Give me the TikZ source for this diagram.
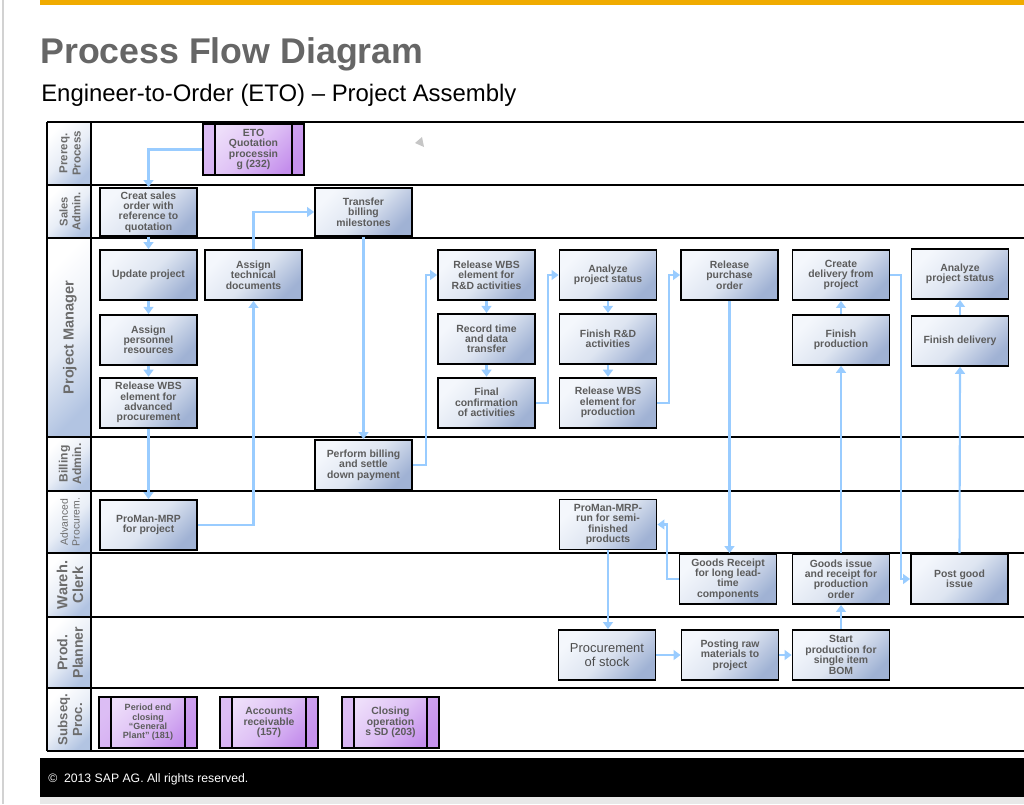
\documentclass[tikz,border=0pt]{standalone}
\usepackage{fontspec}
\setmainfont{Liberation Sans}
\usepackage{tikz}
\usetikzlibrary{arrows.meta, positioning, calc}

\definecolor{sapgold}{RGB}{240,171,0}
\definecolor{titlegray}{RGB}{102,102,102}
\definecolor{txtgray}{RGB}{92,92,92}
\definecolor{lblgray}{RGB}{108,108,108}
\definecolor{flowblue}{RGB}{153,204,255}
\definecolor{boxlight}{RGB}{244,247,252}
\definecolor{boxmid}{RGB}{222,229,241}
\definecolor{boxdark}{RGB}{160,178,212}
\definecolor{celldark}{RGB}{178,196,226}
\definecolor{purplelight}{RGB}{238,222,250}
\definecolor{purplemid}{RGB}{222,192,245}
\definecolor{purpledark}{RGB}{196,142,236}
\definecolor{purpleside}{RGB}{200,150,238}

\newlength{\pxu}
\setlength{\pxu}{0.025cm}

\begin{document}
\begin{tikzpicture}[x=0.025cm, y=-0.025cm, >=Triangle,
    task/.style={draw=black, line width=1.3pt, text=txtgray, align=center,
        font=\fontsize{7.4}{7.4}\selectfont\bfseries, inner sep=1pt,
        minimum width=97\pxu, minimum height=50\pxu,
        top color=boxlight, bottom color=boxdark, middle color=boxmid, shading angle=45},
    extproc/.style={task, top color=purplelight, bottom color=purpledark,
        middle color=purplemid, shading angle=45,
        path picture={
            \fill[purpleside, opacity=.45] (path picture bounding box.north west) rectangle ([xshift=12\pxu]path picture bounding box.south west);
            \fill[purpleside, opacity=.6] (path picture bounding box.north east) rectangle ([xshift=-12\pxu]path picture bounding box.south east);
            \draw[line width=1pt] ([xshift=12\pxu]path picture bounding box.north west) -- ([xshift=12\pxu]path picture bounding box.south west);
            \draw[line width=1pt] ([xshift=-12\pxu]path picture bounding box.north east) -- ([xshift=-12\pxu]path picture bounding box.south east);
        }},
    flow/.style={draw=flowblue, line width=1.5pt, -{Triangle[width=7pt,length=5pt]}},
    lanecell/.style={top color=white, bottom color=celldark, middle color=white!70!celldark, shading angle=45},
    laneline/.style={draw=black, line width=1.4pt},
    lanelbl/.style={rotate=90, text=lblgray, align=center, inner sep=0pt}]

\useasboundingbox (0,0) rectangle (1024,804);

% Slide frame
\draw[gray!35, line width=1pt] (3,0) -- (3,804);
\fill[sapgold] (40,0) rectangle (1024,5);
\node[anchor=base west, inner sep=0pt, text=titlegray, font=\fontsize{25.4}{30}\selectfont\bfseries] (title) at (40,63) {Process Flow Diagram};
\node[anchor=base west, inner sep=0pt, font=\fontsize{17}{20}\selectfont] (subtitle) at (41,101) {Engineer-to-Order (ETO) – Project Assembly};

% Swim lanes
\foreach \ya/\yb/\fs/\bs/\wt/\txt in {
    122/185/8.2/9.4/\bfseries/{Prereq.\\Process},
    185/238/8.0/9.2/\bfseries/{Sales\\Admin.},
    238/437/10.4/12/\bfseries/{Project Manager},
    437/491/8.6/9.6/\bfseries/{Billing\\Admin.},
    491/553/7.4/8.4/\mdseries/{Advanced\\Procurem.},
    553/617/10.4/11.2/\bfseries/{Wareh.\\Clerk},
    617/688/10/11/\bfseries/{Prod.\\Planner},
    688/751/9.4/10.4/\bfseries/{Subseq.\\Proc.}}
{
    \path[lanecell] (47,\ya) rectangle (91,\yb);
    \node[lanelbl, font=\fontsize{\fs}{\bs}\selectfont\wt] (lane\ya) at (70,{(\ya+\yb)/2}) {\txt};
}
\foreach \y in {122,185,238,437,491,553,617,688,751}
    \draw[laneline] (47,\y) -- (1024,\y);
\draw[laneline] (47,122) -- (47,751);
\draw[laneline] (91,122) -- (91,751);

% stray marker
\fill[gray!45] (415,143) -- (422,137) -- (424,147) -- cycle;

% Prereq. / Sales
\node[extproc, minimum width=101\pxu, minimum height=51\pxu] (eto) at (253.5,149.5) {ETO\\Quotation\\processin\\g (232)};
\node[task, minimum height=48\pxu] (cso) at (148.5,212) {Creat sales\\order with\\reference to\\quotation};
\node[task, minimum height=48\pxu] (tbm) at (363.5,212) {Transfer\\billing\\milestones};

% Project Manager
\node[task] (upd) at (148.5,275) {Update project};
\node[task, below=13\pxu of upd] (apr) {Assign\\personnel\\resources};
\node[task, below=11\pxu of apr] (wbsa) {Release WBS\\element for\\advanced\\procurement};
\node[task] (atd) at (253.5,275) {Assign\\technical\\documents};
\node[task] (wbsr) at (486.5,275) {Release WBS\\element for\\R\&D activities};
\node[task, below=12\pxu of wbsr] (rtd) {Record time\\and data\\transfer};
\node[task, below=12\pxu of rtd] (fca) {Final\\confirmation\\of activities};
\node[task] (aps1) at (608,275) {Analyze\\project status};
\node[task, below=12\pxu of aps1] (frd) {Finish R\&D\\activities};
\node[task, below=12\pxu of frd] (wbsp) {Release WBS\\element for\\production};
\node[task] (rpo) at (729.5,275) {Release\\purchase\\order};
\node[task] (cdp) at (841,275) {Create\\delivery from\\project};
\node[task, below=13\pxu of cdp] (fpr) {Finish\\production};
\node[task] (aps2) at (960,274) {Analyze\\project status};
\node[task, below=15\pxu of aps2] (fdl) {Finish delivery};

% Billing / Procurement / Warehouse / Production
\node[task] (pbs) at (363.5,465) {Perform billing\\and settle\\down payment};
\node[task] (pmp) at (148.5,525) {ProMan-MRP\\for project};
\node[task] (pms) at (608,524.5) {ProMan-MRP-\\run for semi-\\finished\\products};
\node[task] (grl) at (728,579) {Goods Receipt\\for long lead-\\time\\components};
\node[task] (gir) at (841,579) {Goods issue\\and receipt for\\production\\order};
\node[task] (pgi) at (959.5,579) {Post good\\issue};
\node[task, text=black!70, font=\fontsize{9.2}{10.4}\selectfont] (pst) at (607,655) {Procurement\\of stock};
\node[task] (prm) at (730,655) {Posting raw\\materials to\\project};
\node[task] (spb) at (841,655) {Start\\production for\\single item\\BOM};

% Subsequent processes
\node[extproc, minimum width=98\pxu, minimum height=51\pxu, font=\fontsize{6.4}{6.6}\selectfont\bfseries] (pec) at (148,722.5) {Period end\\closing\\“General\\Plant” (181)};
\node[extproc, minimum width=98\pxu, minimum height=51\pxu] (acr) at (269,722.5) {Accounts\\receivable\\(157)};
\node[extproc, minimum width=97\pxu, minimum height=51\pxu] (cos) at (390.5,722.5) {Closing\\operation\\s SD (203)};

% Flows
\draw[flow] (eto.west) -| (cso.north);
\draw[flow] (cso.south) -- (upd.north);
\draw[flow] (upd.south) -- (apr.north);
\draw[flow] (apr.south) -- (wbsa.north);
\draw[flow] (wbsa.south) -- (pmp.north);
\draw[flow] (pmp.east) -| (atd.south);
\draw[flow] (atd.north) |- (tbm.west);
\draw[flow] (tbm.south) -- (pbs.north);
\draw[flow] (pbs.east) -- ++(13,0) |- (wbsr.west);
\draw[flow] (wbsr.south) -- (rtd.north);
\draw[flow] (rtd.south) -- (fca.north);
\draw[flow] (fca.east) -- ++(12,0) |- (aps1.west);
\draw[flow] (aps1.south) -- (frd.north);
\draw[flow] (frd.south) -- (wbsp.north);
\draw[flow] (wbsp.east) -- ++(12,0) |- (rpo.west);
\draw[flow] (rpo.south) -- (rpo.south |- grl.north);
\draw[flow] (grl.west) -- ++(-12,0) |- (pms.east);
\draw[flow] (pms.south) -- (pms.south |- pst.north);
\draw[flow] (pst.east) -- (prm.west);
\draw[flow] (prm.east) -- (spb.west);
\draw[flow] (spb.north) -- (gir.south);
\draw[flow] (gir.north) -- (fpr.south);
\draw[flow] (fpr.north) -- (cdp.south);
\draw[flow] (cdp.east) -- ++(11,0) |- (pgi.west);
\draw[flow] (pgi.north) -- (fdl.south);
\draw[flow] (fdl.north) -- (aps2.south);

% Footer
\fill[black] (40,758) rectangle (1024,797);
\fill[gray!18] (40,797) rectangle (1024,804);
\node[anchor=base west, inner sep=0pt, text=white, font=\fontsize{8.7}{10}\selectfont] (copy) at (48,782) {©\ \ 2013 SAP AG. All rights reserved.};
\end{tikzpicture}
\end{document}
